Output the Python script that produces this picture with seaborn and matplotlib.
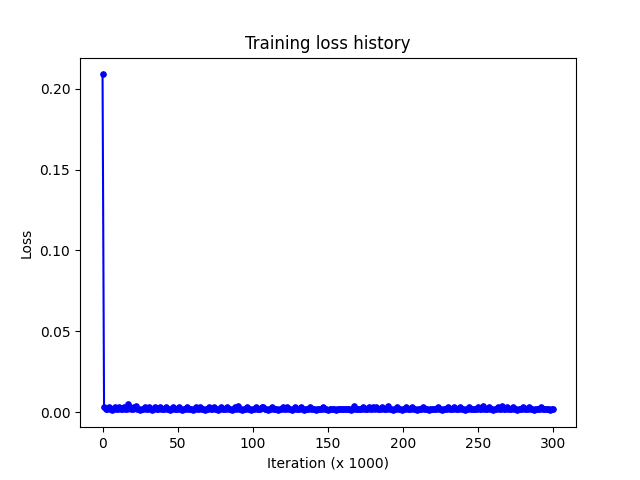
import matplotlib
matplotlib.use("Agg")
import matplotlib.pyplot as plt
import seaborn as sns
import numpy as np

first_loss = [0.209]
rest_loss = [
0.003,0.002,0.002,0.003,0.002,0.001,0.002,0.003,0.002,0.002,0.003,0.002,0.002,0.003,0.002,0.002,0.005,0.003,0.002,0.002,
0.003,0.004,0.002,0.002,0.001,0.002,0.002,0.003,0.002,0.002,0.003,0.002,0.001,0.002,0.003,0.002,0.002,0.003,0.002,0.002,
0.002,0.003,0.002,0.002,0.001,0.002,0.003,0.002,0.002,0.002,0.003,0.002,0.001,0.002,0.002,0.003,0.002,0.002,0.002,0.001,
0.002,0.003,0.002,0.002,0.003,0.002,0.002,0.001,0.002,0.002,0.003,0.002,0.002,0.003,0.002,0.002,0.001,0.002,0.003,0.002,
0.002,0.002,0.003,0.002,0.002,0.001,0.002,0.003,0.002,0.004,0.002,0.002,0.001,0.002,0.002,0.003,0.002,0.002,0.001,0.002,
0.002,0.003,0.002,0.002,0.002,0.003,0.003,0.002,0.002,0.001,0.002,0.002,0.003,0.002,0.002,0.002,0.001,0.002,0.002,0.003,
0.002,0.002,0.003,0.002,0.002,0.001,0.002,0.003,0.002,0.002,0.002,0.003,0.002,0.001,0.002,0.002,0.002,0.003,0.002,0.002,
0.002,0.001,0.002,0.002,0.002,0.002,0.003,0.002,0.002,0.001,0.002,0.002,0.002,0.002,0.001,0.002,0.002,0.002,0.002,0.002,
0.002,0.002,0.002,0.002,0.001,0.002,0.004,0.002,0.002,0.002,0.002,0.002,0.003,0.002,0.002,0.002,0.003,0.002,0.002,0.003,
0.002,0.003,0.002,0.002,0.002,0.003,0.002,0.002,0.002,0.004,0.002,0.002,0.001,0.002,0.002,0.003,0.002,0.002,0.001,0.002,
0.002,0.003,0.002,0.002,0.002,0.003,0.002,0.002,0.001,0.002,0.002,0.002,0.003,0.002,0.002,0.002,0.001,0.002,0.002,0.002,
0.002,0.002,0.003,0.002,0.002,0.001,0.002,0.002,0.002,0.003,0.002,0.002,0.002,0.003,0.002,0.002,0.002,0.003,0.002,0.002,
0.001,0.002,0.002,0.003,0.002,0.002,0.002,0.002,0.002,0.003,0.002,0.002,0.004,0.002,0.002,0.002,0.003,0.002,0.002,0.001,
0.002,0.002,0.003,0.002,0.002,0.004,0.002,0.002,0.003,0.002,0.002,0.002,0.003,0.002,0.002,0.001,0.002,0.002,0.002,0.003,
0.002,0.002,0.002,0.003,0.002,0.002,0.001,0.002,0.002,0.002,0.002,0.003,0.002,0.002,0.002,0.002,0.002,0.001,0.002,0.002,
]
loss = first_loss + rest_loss
iterations = np.arange(len(loss))

fig, ax = plt.subplots(figsize=(6.4, 4.8), dpi=100)
sns.lineplot(x=iterations, y=loss, ax=ax, color="blue", marker="o",
             markersize=4, markeredgecolor="blue", linewidth=1.5)
ax.set_title("Training loss history")
ax.set_xlabel("Iteration (x 1000)")
ax.set_ylabel("Loss")
fig.savefig("out.png")
